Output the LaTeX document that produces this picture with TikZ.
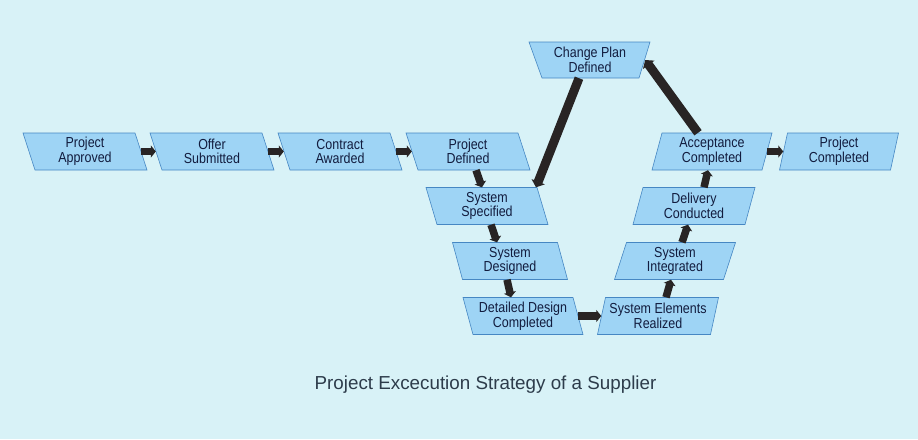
\documentclass[tikz,border=0pt]{standalone}
\usepackage{fontspec}
\setmainfont{Liberation Sans}
\newfontfamily\boxfont[FakeStretch=0.86]{Liberation Sans}
\usetikzlibrary{arrows.meta,calc}
\definecolor{bgc}{RGB}{216,242,247}
\definecolor{boxfill}{RGB}{158,212,245}
\definecolor{boxedge}{RGB}{70,135,195}
\definecolor{txt}{RGB}{18,28,62}
\definecolor{arr}{RGB}{40,36,36}
\definecolor{ttl}{RGB}{45,60,75}
\tikzset{
  boxlabel/.style={inner sep=0pt, minimum height=37pt, align=center, text=txt,
    font=\boxfont\fontsize{14.5}{13.5}\selectfont},
  boxshape/.style={fill=boxfill, draw=boxedge, line width=0.6pt},
  flow/.style={draw=arr, line width=7.5pt, -{Triangle[length=5pt,width=12pt]}},
  bigflow/.style={draw=arr, line width=9pt, -{Triangle[length=6pt,width=14pt]}},
}
% name, x, y, width, top shift, text
\newcommand\pbox[6]{%
  \path[boxshape] ({#2-#4/2+#5},{#3-18.5}) -- ({#2+#4/2+#5},{#3-18.5})
     -- ({#2+#4/2-#5},{#3+18.5}) -- ({#2-#4/2-#5},{#3+18.5}) -- cycle;
  \node[boxlabel, minimum width=#4pt] (#1) at (#2,#3) {#6};
}
\begin{document}
\begin{tikzpicture}[x=1pt,y=-1pt]
\fill[bgc] (0,0) rectangle (918,439);
\useasboundingbox (0,0) rectangle (918,439);
% left chain
\pbox{pa}{85}{151.5}{112}{-6}{Project\\Approved}
\pbox{os}{212}{151.5}{112}{-6}{Offer\\Submitted}
\pbox{ca}{340}{151.5}{112}{-6}{Contract\\Awarded}
\pbox{pd}{468}{151.5}{112}{-6}{Project\\Defined}
\pbox{ss}{487}{206}{111}{-5.5}{System\\Specified}
\pbox{sd}{510}{261}{105}{-5}{System\\Designed}
\pbox{dd}{523}{316}{110}{-5}{Detailed Design\\Completed}
% right chain
\pbox{ser}{658}{316}{113}{4}{System Elements\\Realized}
\pbox{si}{675}{261}{109}{6}{System\\Integrated}
\pbox{dc}{694}{206}{112}{5}{Delivery\\Conducted}
\pbox{ac}{712}{151.5}{110}{5}{Acceptance\\Completed}
\pbox{pc}{839}{151.5}{111}{4}{Project\\Completed}
% change plan trapezoid
\path[boxshape] (529,42) -- (650,42) -- (639,78) -- (542,78) -- cycle;
\node[boxlabel, minimum width=110pt, minimum height=36pt] (cp) at (590,60) {Change Plan\\Defined};
% title
\node[text=ttl, font=\fontsize{18.8}{20}\selectfont] (title) at (485.5,385) {Project Excecution Strategy of a Supplier};
% arrows
\draw[flow] (pa.east) -- (os.west);
\draw[flow] (os.east) -- (ca.west);
\draw[flow] (ca.east) -- (pd.west);
\draw[flow] ([xshift=8pt]pd.south) -- ([xshift=-5pt]ss.north);
\draw[flow] ([xshift=4pt]ss.south) -- ([xshift=-13pt]sd.north);
\draw[flow] ([xshift=-3pt]sd.south) -- ([xshift=-12pt]dd.north);
\draw[flow] (dd.east) -- (ser.west);
\draw[flow] ([xshift=8pt]ser.north) -- ([xshift=-4pt]si.south);
\draw[flow] ([xshift=7pt]si.north) -- ([xshift=-6pt]dc.south);
\draw[flow] ([xshift=10pt]dc.north) -- ([xshift=-4pt]ac.north |- ac.south);
\draw[flow] (ac.east) -- (pc.west);
\draw[bigflow] ([xshift=-11pt]cp.south) -- ([xshift=49pt]ss.north);
\draw[bigflow] ([xshift=-14pt]ac.north) -- (cp.east);
\end{tikzpicture}
\end{document}
